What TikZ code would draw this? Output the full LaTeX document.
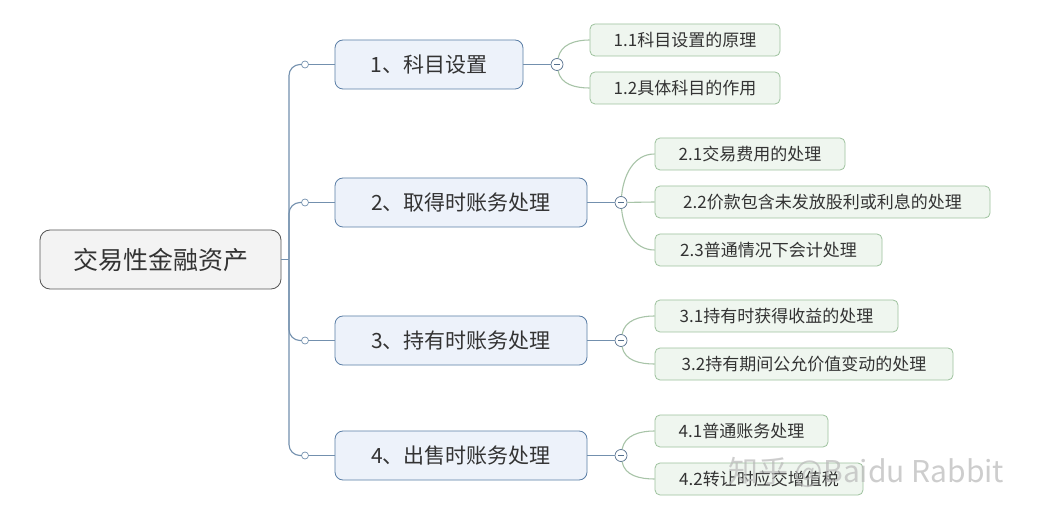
\documentclass[tikz,border=0pt]{standalone}
\usepackage{fontspec}
\newfontfamily\cjk{Noto Sans CJK SC}
\definecolor{txt}{HTML}{333333}
\definecolor{rootborder}{HTML}{555555}
\definecolor{rootfill}{HTML}{F3F3F3}
\definecolor{topborder}{HTML}{5A7EA6}
\definecolor{topfill}{HTML}{EDF2FA}
\definecolor{trunkc}{HTML}{7390AE}
\definecolor{foldc}{HTML}{55708E}
\definecolor{subborder}{HTML}{9EC29E}
\definecolor{subfill}{HTML}{EFF6EF}
\definecolor{subline}{HTML}{A8C4A8}
\begin{document}
\begin{tikzpicture}[x=1pt,y=-1pt,
  rootbox/.style={draw=rootborder, fill=rootfill, rounded corners=10pt, line width=0.8pt,
    minimum width=241pt, minimum height=59pt, inner sep=0pt, text=txt,
    font=\cjk\fontsize{25}{25}\selectfont},
  topicbox/.style={draw=topborder, fill=topfill, rounded corners=8pt, line width=0.8pt,
    minimum height=49pt, inner sep=0pt, text=txt, font=\cjk\fontsize{21}{21}\selectfont},
  subbox/.style={draw=subborder, fill=subfill, rounded corners=5pt, line width=0.8pt,
    minimum height=32pt, inner sep=0pt, text=txt, font=\cjk\fontsize{17}{17}\selectfont},
  dot/.style={circle, draw=trunkc, fill=white, inner sep=0pt, minimum size=7pt, line width=0.7pt},
  fold/.style={circle, draw=foldc, fill=white, inner sep=0pt, minimum size=12pt, line width=0.7pt,
    path picture={\draw[foldc, line width=0.9pt] ([xshift=-3pt]path picture bounding box.center) -- ([xshift=3pt]path picture bounding box.center);}},
  trunkline/.style={draw=trunkc, line width=1.1pt},
  subconn/.style={draw=subline, line width=1.1pt}
]
\useasboundingbox (0,0) rectangle (1038,518);
\fill[white] (0,0) rectangle (1038,518);

% root
\node[rootbox] (root) at (160.5,259.5) {交易性金融资产};

% topics
\node[topicbox, minimum width=188pt] (n1) at (429,64.5) {1、科目设置};
\node[topicbox, minimum width=252pt] (n2) at (461,202.5) {2、取得时账务处理};
\node[topicbox, minimum width=252pt] (n3) at (461,340.5) {3、持有时账务处理};
\node[topicbox, minimum width=252pt] (n4) at (461,455.5) {4、出售时账务处理};

% small dots on trunk
\node[dot] (d1) at (305,64.5) {};
\node[dot] (d2) at (305,202.5) {};
\node[dot] (d3) at (305,340.5) {};
\node[dot] (d4) at (305,455.5) {};

% fold circles
\node[fold] (k1) at (557,64.5) {};
\node[fold] (k2) at (621,202.5) {};
\node[fold] (k3) at (621,340.5) {};
\node[fold] (k4) at (621,455.5) {};

% subtopics
\node[subbox, minimum width=190pt] (s11) at (685,40) {1.1科目设置的原理};
\node[subbox, minimum width=190pt] (s12) at (685,88) {1.2具体科目的作用};
\node[subbox, minimum width=190pt] (s21) at (750,154) {2.1交易费用的处理};
\node[subbox, minimum width=335pt] (s22) at (822.5,202) {2.2价款包含未发放股利或利息的处理};
\node[subbox, minimum width=227pt] (s23) at (768.5,250) {2.3普通情况下会计处理};
\node[subbox, minimum width=243pt] (s31) at (776.5,316) {3.1持有时获得收益的处理};
\node[subbox, minimum width=298pt] (s32) at (804,364) {3.2持有期间公允价值变动的处理};
\node[subbox, minimum width=173pt] (s41) at (741.5,431) {4.1普通账务处理};
\node[subbox, minimum width=208pt] (s42) at (759,479) {4.2转让时应交增值税};

% trunk
\coordinate (t) at (289,259.5);
\draw[trunkline] (root.east) -- (t);
\draw[trunkline, rounded corners=11pt] (t) |- (d1);
\draw[trunkline, rounded corners=11pt] (t) |- (d2);
\draw[trunkline, rounded corners=11pt] (t) |- (d3);
\draw[trunkline, rounded corners=11pt] (t) |- (d4);
\foreach \i in {1,2,3,4} {
  \draw[trunkline] (d\i) -- (n\i.west);
  \draw[trunkline] (n\i.east) -- (k\i);
}

% subtopic connectors
\draw[subconn] (k1) to[out=80,in=180] (s11.west);
\draw[subconn] (k1) to[out=-80,in=180] (s12.west);
\draw[subconn] (k2) to[out=85,in=180] (s21.west);
\draw[subconn] (k2) -- (s22.west);
\draw[subconn] (k2) to[out=-85,in=180] (s23.west);
\draw[subconn] (k3) to[out=80,in=180] (s31.west);
\draw[subconn] (k3) to[out=-80,in=180] (s32.west);
\draw[subconn] (k4) to[out=80,in=180] (s41.west);
\draw[subconn] (k4) to[out=-80,in=180] (s42.west);

% watermark
\node[text=gray!55, opacity=0.7, font=\cjk\fontsize{30}{30}\selectfont, anchor=west, inner sep=0pt] (wm) at (728,472) {知乎 @Baidu Rabbit};
\end{tikzpicture}
\end{document}
